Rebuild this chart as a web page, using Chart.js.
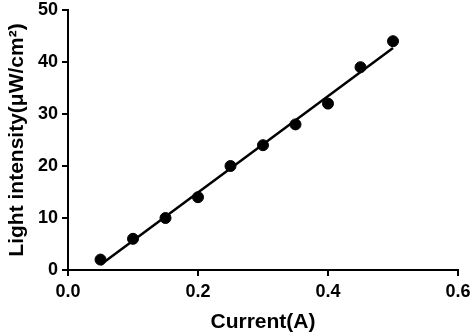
<!DOCTYPE html>
<html>
<head>
<meta charset="utf-8">
<script src="https://cdn.jsdelivr.net/npm/chart.js@4.4.0/dist/chart.umd.min.js"></script>
<style>
  html, body { margin: 0; padding: 0; background: #fff; }
  #wrap { width: 474px; height: 336px; }
</style>
</head>
<body>
<div id="wrap"><canvas id="grafico"></canvas></div>
<script>
//--------------------------------------------------
// DADOS
//--------------------------------------------------

const current   = [0.05, 0.10, 0.15, 0.20, 0.25, 0.30, 0.35, 0.40, 0.45, 0.50];
const intensity = [2, 6, 10, 14, 20, 24, 28, 32, 39, 44];

// linha de ajuste (extremos)
const fitX = [0.05, 0.50];
const fitY = [1.0, 42.7];

const xTicks = [0, 0.2, 0.4, 0.6];
const yTicks = [0, 10, 20, 30, 40, 50];

//--------------------------------------------------
// GRÁFICO
//--------------------------------------------------

const fonte = 'Liberation Sans, Arial, sans-serif';

const eixo = {
  border: { display: true, color: '#000', width: 2 },
  grid: {
    display: true,
    drawOnChartArea: false,
    drawTicks: true,
    tickLength: 6,
    color: '#000',
    lineWidth: 2
  }
};

new Chart(document.getElementById('grafico'), {
  type: 'scatter',
  data: {
    datasets: [
      {
        data: current.map((x, i) => ({ x, y: intensity[i] })),
        pointRadius: 5.5,
        pointBackgroundColor: '#000',
        pointBorderColor: '#000',
        showLine: false
      },
      {
        data: fitX.map((x, i) => ({ x, y: fitY[i] })),
        showLine: true,
        borderColor: '#000',
        borderWidth: 2.5,
        pointRadius: 0
      }
    ]
  },
  options: {
    responsive: true,
    maintainAspectRatio: false,
    animation: false,
    layout: { padding: 0 },
    plugins: { legend: { display: false }, tooltip: { enabled: false } },
    scales: {
      x: {
        ...eixo,
        type: 'linear',
        min: 0,
        max: 0.6,
        afterBuildTicks: s => { s.ticks = xTicks.map(v => ({ value: v })); },
        ticks: {
          color: '#000',
          padding: 5,
          font: { family: fonte, size: 18, weight: 'bold' },
          callback: v => v.toFixed(1)
        },
        title: {
          display: true,
          text: 'Current(A)',
          color: '#000',
          padding: { top: 0, bottom: 1 },
          font: { family: fonte, size: 21, weight: 'bold' }
        },
        afterFit: s => {
          s.height = 66;
          s.paddingLeft = 0;
          s.paddingRight = 16;
        }
      },
      y: {
        ...eixo,
        type: 'linear',
        min: 0,
        max: 50,
        afterBuildTicks: s => { s.ticks = yTicks.map(v => ({ value: v })); },
        ticks: {
          color: '#000',
          padding: 4,
          font: { family: fonte, size: 18, weight: 'bold' }
        },
        title: {
          display: true,
          text: 'Light intensity(\u03bcW/cm\u00b2)',
          color: '#000',
          padding: { top: 5, bottom: 0 },
          font: { family: fonte, size: 21, weight: 'bold' }
        },
        afterFit: s => {
          s.width = 68;
          s.paddingTop = 10;
          s.paddingBottom = 0;
        }
      }
    }
  }
});
</script>
</body>
</html>
